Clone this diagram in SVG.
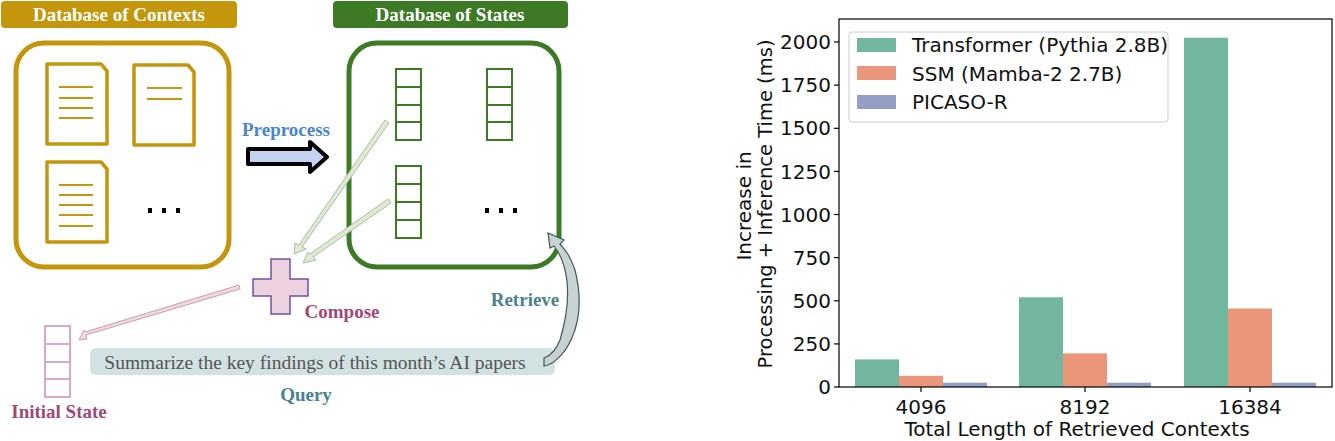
<svg xmlns="http://www.w3.org/2000/svg" width="1335" height="441" viewBox="0 0 1335 441">
<style>
.hd{font-family:"Liberation Serif","DejaVu Serif",serif;font-weight:bold;font-size:19px;fill:#fff}
.lb{font-family:"Liberation Serif","DejaVu Serif",serif;font-weight:bold;font-size:19px}
.doc{fill:#fff;stroke:#c4960c;stroke-width:3.5;stroke-linejoin:round}
.dl{stroke:#c4960c;stroke-width:2}
.cell{fill:#fff;stroke:#3d7a26;stroke-width:2}
.pcell{fill:#fff;stroke:#d8a8c4;stroke-width:2}
.ax{font-family:"DejaVu Sans",sans-serif;font-size:20px;fill:#111}
.dot{fill:#000}
</style>
<g id="hdr-contexts"><rect x="1" y="1" width="236" height="27" rx="4" fill="#c4960c"/><text class="hd" x="119" y="21" text-anchor="middle">Database of Contexts</text></g>
<g id="hdr-states"><rect x="333" y="1" width="235" height="27" rx="4" fill="#3d7a26"/><text class="hd" x="450" y="21" text-anchor="middle">Database of States</text></g>
<g id="contexts">
<rect x="16" y="43" width="213" height="224" rx="28" fill="#fff" stroke="#c4960c" stroke-width="5"/>
<path class="doc" d="M47 64H101L107 71V144H47Z"/>
<line class="dl" x1="59" y1="87" x2="93" y2="87"/><line class="dl" x1="59" y1="98" x2="93" y2="98"/><line class="dl" x1="59" y1="108" x2="93" y2="108"/><line class="dl" x1="59" y1="118" x2="93" y2="118"/>
<path class="doc" d="M134 65H188L194 72V145H134Z"/>
<line class="dl" x1="147" y1="88" x2="182" y2="88"/><line class="dl" x1="147" y1="99" x2="182" y2="99"/>
<path class="doc" d="M47 162H101L107 169V242H47Z"/>
<line class="dl" x1="59" y1="185" x2="93" y2="185"/><line class="dl" x1="59" y1="195" x2="93" y2="195"/><line class="dl" x1="59" y1="205" x2="93" y2="205"/><line class="dl" x1="59" y1="215" x2="93" y2="215"/><line class="dl" x1="59" y1="226" x2="93" y2="226"/>
<rect class="dot" x="148" y="208" width="4" height="5"/><rect class="dot" x="162" y="208" width="4" height="5"/><rect class="dot" x="176" y="208" width="4" height="5"/>
</g>
<g id="states">
<rect x="349" y="43" width="210" height="224" rx="28" fill="#fff" stroke="#3d7a26" stroke-width="5"/>
<rect class="cell" x="396" y="69" width="25" height="18"/><rect class="cell" x="396" y="87" width="25" height="18"/><rect class="cell" x="396" y="105" width="25" height="17"/><rect class="cell" x="396" y="122" width="25" height="18"/>
<rect class="cell" x="487" y="69" width="25" height="18"/><rect class="cell" x="487" y="87" width="25" height="18"/><rect class="cell" x="487" y="105" width="25" height="17"/><rect class="cell" x="487" y="122" width="25" height="18"/>
<rect class="cell" x="396" y="166" width="25" height="18"/><rect class="cell" x="396" y="184" width="25" height="18"/><rect class="cell" x="396" y="202" width="25" height="18"/><rect class="cell" x="396" y="220" width="25" height="18"/>
<rect class="dot" x="485" y="208" width="4" height="5"/><rect class="dot" x="499" y="208" width="4" height="5"/><rect class="dot" x="513" y="208" width="4" height="5"/>
</g>
<g id="preprocess"><text class="lb" x="286" y="136" text-anchor="middle" fill="#4a86c8">Preprocess</text></g>
<g id="compose">
<path d="M271 259H290V279H308V296H290V314H271V296H253V279H271Z" fill="#ecd2df" stroke="#7050a8" stroke-width="1.5"/>
<text class="lb" x="342" y="318" text-anchor="middle" fill="#a04878">Compose</text>
</g>
<g id="initial">
<rect class="pcell" x="45" y="326" width="25" height="18"/><rect class="pcell" x="45" y="344" width="25" height="18"/><rect class="pcell" x="45" y="362" width="25" height="17"/><rect class="pcell" x="45" y="379" width="25" height="18"/>
<text class="lb" x="59" y="418" text-anchor="middle" fill="#a04878">Initial State</text>
</g>
<g id="query">
<rect x="90" y="348" width="465" height="27" rx="6" fill="#d2e2e2"/>
<text x="315" y="369" text-anchor="middle" font-family="Liberation Serif,DejaVu Serif,serif" font-size="19.5" fill="#555">Summarize the key findings of this month’s AI papers</text>
<text class="lb" x="306" y="401" text-anchor="middle" fill="#4a8090">Query</text>
</g>
<g id="retrieve"><text class="lb" x="525" y="306" text-anchor="middle" fill="#4a8090">Retrieve</text></g>
<g id="connectors">
<path d="M248 149H310V142L327 157L310 172V164H248Z" fill="#c4d4f0" stroke="#000" stroke-width="4" stroke-linejoin="round"/>
<path d="M385 120L389 123L302 247L306 249L294 254L295 243L299 245Z" fill="#dfe9d6" stroke="#a8c09a" stroke-width="1"/>
<path d="M388 199L391 203L313 257L316 260L303 263L308 252L310 254Z" fill="#dfe9d6" stroke="#a8c09a" stroke-width="1"/>
<path d="M239 285L240 289L86 335L87 339L79 340L84 330L85 332Z" fill="#f0d6de" stroke="#c8a0b0" stroke-width="1"/>
<path d="M544 358L544 366C560 364 590 330 575 270C570 255 565 250 560 244L564 240L548 233L550 248L554 246C565 260 575 290 560 340C556 350 550 356 544 358Z" fill="#c8d2d2" stroke="#405858" stroke-width="1.2"/>
</g>
<g id="chart">
<rect x="855" y="359.4" width="44" height="27.6" fill="#72b6a0"/>
<rect x="899" y="375.8" width="44" height="11.2" fill="#e9967a"/>
<rect x="943" y="382.7" width="44" height="4.3" fill="#939fc4"/>
<rect x="1019" y="297.3" width="44" height="89.7" fill="#72b6a0"/>
<rect x="1063" y="353.4" width="44" height="33.6" fill="#e9967a"/>
<rect x="1107" y="382.7" width="44" height="4.3" fill="#939fc4"/>
<rect x="1184" y="37.7" width="44" height="349.3" fill="#72b6a0"/>
<rect x="1228" y="308.5" width="44" height="78.5" fill="#e9967a"/>
<rect x="1272" y="382.7" width="44" height="4.3" fill="#939fc4"/>
<rect x="839" y="19" width="493" height="368" fill="none" stroke="#000" stroke-width="1.2"/>
<g stroke="#000" stroke-width="1.2">
<line x1="834" y1="387" x2="839" y2="387"/><line x1="834" y1="343.9" x2="839" y2="343.9"/><line x1="834" y1="300.8" x2="839" y2="300.8"/><line x1="834" y1="257.6" x2="839" y2="257.6"/><line x1="834" y1="214.5" x2="839" y2="214.5"/><line x1="834" y1="171.4" x2="839" y2="171.4"/><line x1="834" y1="128.3" x2="839" y2="128.3"/><line x1="834" y1="85.1" x2="839" y2="85.1"/><line x1="834" y1="42" x2="839" y2="42"/>
<line x1="921" y1="387" x2="921" y2="392"/><line x1="1085" y1="387" x2="1085" y2="392"/><line x1="1250" y1="387" x2="1250" y2="392"/>
</g>
<g class="ax" text-anchor="end">
<text x="831" y="394">0</text><text x="831" y="351">250</text><text x="831" y="308">500</text><text x="831" y="265">750</text><text x="831" y="222">1000</text><text x="831" y="179">1250</text><text x="831" y="135">1500</text><text x="831" y="92">1750</text><text x="831" y="49">2000</text>
</g>
<g class="ax" text-anchor="middle">
<text x="921" y="414">4096</text><text x="1085" y="414">8192</text><text x="1250" y="414">16384</text>
<text x="1077" y="436">Total Length of Retrieved Contexts</text>
<text transform="translate(751,206) rotate(-90)">Increase in</text>
<text transform="translate(772,204) rotate(-90)" font-size="19.5">Processing + Inference Time (ms)</text>
</g>
<rect x="849" y="32" width="319" height="90" rx="3" fill="#fff" fill-opacity="0.8" stroke="#ccc"/>
<rect x="857" y="38" width="39" height="14" fill="#72b6a0"/>
<rect x="857" y="66" width="39" height="14" fill="#e9967a"/>
<rect x="857" y="95" width="39" height="14" fill="#939fc4"/>
<g class="ax"><text x="912" y="52">Transformer (Pythia 2.8B)</text><text x="912" y="81">SSM (Mamba-2 2.7B)</text><text x="912" y="109">PICASO-R</text></g>
</g>
</svg>
